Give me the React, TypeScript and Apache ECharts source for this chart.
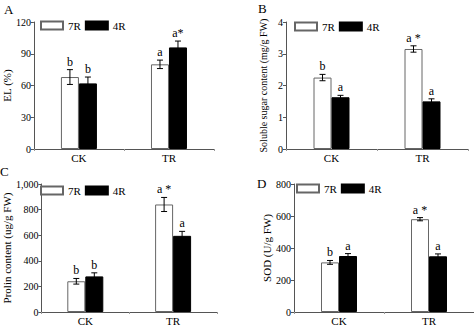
import React, { useEffect, useRef } from "react";
import * as echarts from "echarts";

const categories = ["CK", "TR"];
const seriesNames = ["7R", "4R"];

// Panel A: EL (%)
const elMean7R = [68, 80];
const elErr7R = [7, 4];
const elMean4R = [62, 96];
const elErr4R = [6, 6];
const elSig7R = ["b", "a"];
const elSig4R = ["b", "a*"];

// Panel B: soluble sugar (mg/g FW)
const sugarMean7R = [2.25, 3.15];
const sugarErr7R = [0.1, 0.1];
const sugarMean4R = [1.63, 1.5];
const sugarErr4R = [0.06, 0.08];
const sugarSig7R = ["b", "a *"];
const sugarSig4R = ["a", "a"];

// Panel C: prolin (ug/g FW)
const prolinMean7R = [240, 840];
const prolinErr7R = [22, 55];
const prolinMean4R = [278, 595];
const prolinErr4R = [28, 35];
const prolinSig7R = ["b", "a *"];
const prolinSig4R = ["b", "a"];

// Panel D: SOD (U/g FW)
const sodMean7R = [310, 580];
const sodErr7R = [12, 10];
const sodMean4R = [350, 348];
const sodErr4R = [15, 15];
const sodSig7R = ["b", "a *"];
const sodSig4R = ["a", "a"];

// y-axis ticks
const yMaxA = 120, yStepA = 30;
const yMaxB = 4, yStepB = 1;
const yMaxC = 1000, yStepC = 200;
const yMaxD = 800, yStepD = 200;

const FONT = "Liberation Serif";
const BAR_W = 18;

type Panel = {
  name: string;
  nameSize: number;
  m7: number[]; e7: number[]; m4: number[]; e4: number[];
  s7: string[]; s4: string[];
  max: number; step: number;
  grid: { left: number; top: number; width: number; height: number };
  nameGap: number;
  legend: { left: number; top: number };
};

const panels: Panel[] = [
  { name: "EL (%)", nameSize: 11, m7: elMean7R, e7: elErr7R, m4: elMean4R, e4: elErr4R, s7: elSig7R, s4: elSig4R,
    max: yMaxA, step: yStepA, grid: { left: 33, top: 22, width: 181, height: 127 }, nameGap: 21,
    legend: { left: 40, top: 20 } },
  { name: "Soluble sugar content (mg/g FW)", nameSize: 10, m7: sugarMean7R, e7: sugarErr7R, m4: sugarMean4R, e4: sugarErr4R,
    s7: sugarSig7R, s4: sugarSig4R,
    max: yMaxB, step: yStepB, grid: { left: 286, top: 22, width: 182, height: 127 }, nameGap: 18,
    legend: { left: 294, top: 21 } },
  { name: "Prolin content (ug/g FW)", nameSize: 11, m7: prolinMean7R, e7: prolinErr7R, m4: prolinMean4R, e4: prolinErr4R,
    s7: prolinSig7R, s4: prolinSig4R,
    max: yMaxC, step: yStepC, grid: { left: 35, top: 184, width: 182, height: 128 }, nameGap: 24,
    legend: { left: 40, top: 185 } },
  { name: "SOD (U/g FW)", nameSize: 11, m7: sodMean7R, e7: sodErr7R, m4: sodMean4R, e4: sodErr4R,
    s7: sodSig7R, s4: sodSig4R,
    max: yMaxD, step: yStepD, grid: { left: 294, top: 184, width: 180, height: 128 }, nameGap: 22,
    legend: { left: 296, top: 183 } },
];

const letters = [
  { t: "A", x: 4, y: 3 },
  { t: "B", x: 258, y: 2 },
  { t: "C", x: 0, y: 165 },
  { t: "D", x: 257, y: 177 },
];

function errSeries(idx: number, means: number[], errs: number[], sigs: string[], offset: number) {
  return {
    type: "custom",
    xAxisIndex: idx,
    yAxisIndex: idx,
    silent: true,
    z: 5,
    data: means.map((m, i) => [i, m, errs[i]]),
    renderItem: (params: any, api: any) => {
      const x = api.value(0);
      const m = api.value(1);
      const e = api.value(2);
      const top = api.coord([x, m + e]);
      const bot = api.coord([x, m - e]);
      const px = top[0] + offset;
      const cap = 3;
      const st = { stroke: "#000", lineWidth: 1 };
      return {
        type: "group",
        children: [
          { type: "line", shape: { x1: px, y1: top[1], x2: px, y2: bot[1] }, style: st },
          { type: "line", shape: { x1: px - cap, y1: top[1], x2: px + cap, y2: top[1] }, style: st },
          { type: "line", shape: { x1: px - cap, y1: bot[1], x2: px + cap, y2: bot[1] }, style: st },
          {
            type: "text",
            style: {
              text: sigs[params.dataIndex],
              x: px,
              y: top[1] - 2,
              align: "center",
              verticalAlign: "bottom",
              fontSize: 12,
              fontFamily: FONT,
              fill: "#000",
            },
          },
        ],
      };
    },
  };
}

export default function App() {
  const ref = useRef<HTMLDivElement>(null);
  useEffect(() => {
    if (!ref.current) return;
    const chart = echarts.init(ref.current, null, { renderer: "svg" });
    const axisLine = { lineStyle: { color: "#555", width: 1 } };
    const option: any = {
      animation: false,
      backgroundColor: "#fff",
      grid: panels.map((p) => ({ ...p.grid, containLabel: false })),
      legend: panels.map((p) => ({
        data: seriesNames,
        left: p.legend.left,
        top: p.legend.top,
        padding: 0,
        itemWidth: 22,
        itemHeight: 8,
        itemGap: 4,
        selectedMode: false,
        icon: "rect",
        textStyle: { fontFamily: FONT, fontSize: 11, color: "#000" },
      })),
      xAxis: panels.map((p, i) => ({
        type: "category",
        gridIndex: i,
        data: categories,
        axisLine,
        axisTick: { show: true, length: 2, lineStyle: { color: "#999" } },
        axisLabel: { fontFamily: FONT, fontSize: 11, color: "#000", margin: 3 },
      })),
      yAxis: panels.map((p, i) => ({
        type: "value",
        gridIndex: i,
        min: 0,
        max: p.max,
        interval: p.step,
        name: p.name,
        nameLocation: "middle",
        nameRotate: 90,
        nameGap: p.nameGap,
        nameTextStyle: { fontFamily: FONT, fontSize: p.nameSize, color: "#000" },
        axisLine: { show: true, ...axisLine },
        axisTick: { show: true, length: 3, lineStyle: { color: "#555" } },
        splitLine: { show: false },
        axisLabel: { fontFamily: FONT, fontSize: 10, color: "#000", margin: 3 },
      })),
      series: panels.flatMap((p, i) => [
        {
          type: "bar",
          name: seriesNames[0],
          xAxisIndex: i,
          yAxisIndex: i,
          data: p.m7,
          barWidth: BAR_W,
          barGap: "0%",
          itemStyle: { color: "#fff", borderColor: "#666", borderWidth: 1 },
        },
        {
          type: "bar",
          name: seriesNames[1],
          xAxisIndex: i,
          yAxisIndex: i,
          data: p.m4,
          barWidth: BAR_W,
          barGap: "0%",
          itemStyle: { color: "#000", borderColor: "#000", borderWidth: 1 },
        },
        errSeries(i, p.m7, p.e7, p.s7, -BAR_W / 2),
        errSeries(i, p.m4, p.e4, p.s4, BAR_W / 2),
      ]),
      graphic: letters.map((l) => ({
        type: "text",
        left: l.x,
        top: l.y,
        style: { text: l.t, fontFamily: FONT, fontSize: 13, fill: "#000" },
      })),
    };
    chart.setOption(option);
    return () => chart.dispose();
  }, []);
  return (
    <div
      ref={ref}
      style={{ position: "fixed", left: 0, top: 0, width: 474, height: 336, background: "#fff" }}
    />
  );
}
